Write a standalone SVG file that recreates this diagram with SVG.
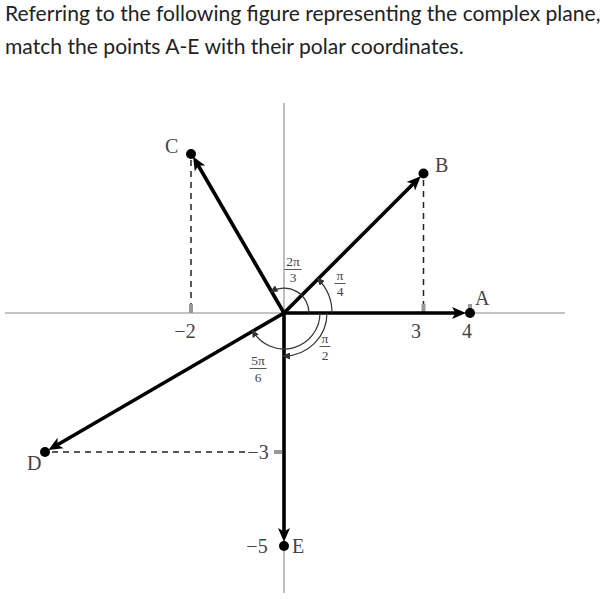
<svg xmlns="http://www.w3.org/2000/svg" width="614" height="599" viewBox="0 0 614 599">
<style>
.title{font-family:Lato,"Noto Sans",sans-serif;font-size:21.1px;fill:#222}
.lbl{font-family:"Liberation Serif",serif;font-size:20px;fill:#444}
.num{font-family:"Liberation Serif",serif;font-size:20px;fill:#444}
.fr{font-family:"Liberation Serif",serif;font-size:13.5px;fill:#444;text-anchor:middle}
.axis{stroke:#b0b0b0;stroke-width:1.6;fill:none}
.vec{stroke:#000;stroke-width:3.6;fill:none;marker-end:url(#ah)}
.dash{stroke:#222;stroke-width:1.5;stroke-dasharray:6 5;fill:none}
.arc{stroke:#333;stroke-width:1.2;fill:none;marker-end:url(#sah)}
.tick{fill:#999}
.bar{stroke:#444;stroke-width:0.9}
</style>
<defs>
<marker id="ah" markerUnits="userSpaceOnUse" markerWidth="18" markerHeight="14" refX="7" refY="7" orient="auto">
<path d="M0,1 L14,7 L0,13 L3.5,7 z" fill="#000"/>
</marker>
<marker id="sah" markerUnits="userSpaceOnUse" markerWidth="9" markerHeight="7" refX="6" refY="3.5" orient="auto">
<path d="M0,0 L8,3.5 L0,7 z" fill="#333"/>
</marker>
</defs>
<g id="title">
<text class="title" x="5" y="21">Referring to the following figure representing the complex plane,</text>
<text class="title" x="5" y="54">match the points A-E with their polar coordinates.</text>
</g>
<g id="axes">
<line class="axis" x1="5" y1="313" x2="565" y2="313"/>
<line class="axis" x1="284" y1="103" x2="284" y2="593"/>
<rect class="tick" x="189" y="304" width="4" height="9"/>
<rect class="tick" x="421.5" y="304" width="4" height="9"/>
<rect class="tick" x="468" y="304" width="4" height="9"/>
<rect class="tick" x="274" y="450" width="8" height="4"/>
</g>
<g id="connectors">
<line class="dash" x1="191" y1="160" x2="191" y2="304"/>
<line class="dash" x1="423.5" y1="180" x2="423.5" y2="304"/>
<line class="dash" x1="52" y1="452" x2="250" y2="452"/>
<line class="vec" x1="284" y1="313" x2="459" y2="313"/>
<line class="vec" x1="284" y1="313" x2="415.8" y2="181.2"/>
<line class="vec" x1="284" y1="313" x2="196.5" y2="162.5"/>
<line class="vec" x1="284" y1="313" x2="54.5" y2="446.5"/>
<line class="vec" x1="284" y1="313" x2="284" y2="535"/>
<path class="arc" d="M332 313 A48 48 0 0 0 318 279"/>
<path class="arc" d="M309 313 A25 25 0 0 0 271.5 291.4"/>
<path class="arc" d="M327 313 A43 43 0 0 1 284 356"/>
<path class="arc" d="M320 313 A36 36 0 0 1 252.8 331"/>
</g>
<g id="A"><circle cx="470" cy="313" r="5"/><text class="lbl" x="475" y="305">A</text></g>
<g id="B"><circle cx="423.5" cy="173.5" r="5"/><text class="lbl" x="435" y="172">B</text></g>
<g id="C"><circle cx="191" cy="154" r="5"/><text class="lbl" x="165" y="153">C</text></g>
<g id="D"><circle cx="45" cy="452" r="5"/><text class="lbl" x="27" y="470">D</text></g>
<g id="E"><circle cx="284" cy="546" r="5"/><text class="lbl" x="292" y="553">E</text></g>
<g id="labels">
<text class="num" x="185" y="338" text-anchor="middle">−2</text>
<text class="num" x="416" y="338" text-anchor="middle">3</text>
<text class="num" x="467" y="338" text-anchor="middle">4</text>
<text class="num" x="258" y="459" text-anchor="middle">−3</text>
<text class="num" x="257" y="553" text-anchor="middle">−5</text>
<text class="fr" x="293" y="266">2π</text><line class="bar" x1="284.5" y1="269.5" x2="301.5" y2="269.5"/><text class="fr" x="293" y="282">3</text>
<text class="fr" x="340" y="280">π</text><line class="bar" x1="334.5" y1="283.5" x2="345.5" y2="283.5"/><text class="fr" x="340" y="296">4</text>
<text class="fr" x="325" y="343">π</text><line class="bar" x1="319.5" y1="346.5" x2="330.5" y2="346.5"/><text class="fr" x="325" y="360">2</text>
<text class="fr" x="258" y="365">5π</text><line class="bar" x1="249.5" y1="368.5" x2="266.5" y2="368.5"/><text class="fr" x="258" y="382">6</text>
</g>
</svg>
